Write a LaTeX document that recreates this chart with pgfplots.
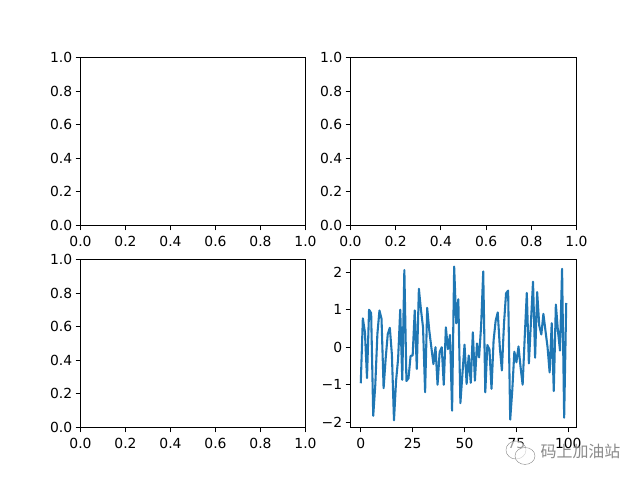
\documentclass[border=0pt]{standalone}
\usepackage{fontspec}
\setmainfont{DejaVu Sans}
\newfontfamily\cjk{Noto Sans CJK SC}
\usepackage{pgfplots}
\pgfplotsset{compat=1.18}
\definecolor{mplblue}{HTML}{1F77B4}
\definecolor{wmgray}{HTML}{8A8A8A}

\pgfplotsset{
  panel/.style={
    scale only axis, width=162pt, height=120.96pt, anchor=south west,
    axis line style={line width=0.8pt}, tick style={line width=0.8pt, black},
    major tick length=3.5pt, tick align=outside, xtick pos=bottom, ytick pos=left,
    tick label style={font=\fontsize{10}{12}\selectfont},
    xticklabel style={yshift=-0.5pt}, yticklabel style={xshift=1pt},
    /pgf/number format/assume math mode=true},
  blank panel/.style={
    panel, xmin=0, xmax=1, ymin=0, ymax=1,
    xtick={0,0.2,0.4,0.6,0.8,1}, ytick={0,0.2,0.4,0.6,0.8,1},
    xticklabels={0.0,0.2,0.4,0.6,0.8,1.0}, yticklabels={0.0,0.2,0.4,0.6,0.8,1.0}},
}

\begin{document}
\begin{tikzpicture}
\useasboundingbox (0pt,0pt) rectangle (460.8pt,345.6pt);

\begin{axis}[blank panel, at={(57.96pt,183.24pt)}]
\end{axis}
\begin{axis}[blank panel, width=162.72pt, at={(252.36pt,183.24pt)}]
\end{axis}
\begin{axis}[blank panel, at={(57.96pt,37.8pt)}]
\end{axis}

\begin{axis}[panel, width=162.72pt, at={(252.36pt,37.8pt)},
  xmin=-4.95, xmax=103.95, ymin=-2.14, ymax=2.34,
  xtick={0,25,50,75,100}, ytick={-2,-1,0,1,2},
  yticklabels={−2,−1,0,1,2}]
\addplot[sharp plot, no marks, color=mplblue, line width=1.5pt, line join=round] coordinates {
(0,-0.96)(1,0.77)(2,0.40)(3,-0.82)(4,1.00)(5,0.91)(6,-1.83)(7,-1.00)(8,0.35)(9,0.98)
(10,0.76)(11,-1.09)(12,-0.30)(13,0.35)(14,0.52)(15,-0.20)(16,-1.95)(17,-0.90)(18,-0.30)(19,1.00)
(20,-0.87)(21,2.06)(22,-0.90)(23,-0.83)(24,-0.23)(25,-0.22)(26,0.98)(27,-0.58)(28,1.56)(29,1.00)
(30,0.53)(31,-1.20)(32,1.05)(33,0.45)(34,0.00)(35,-0.45)(36,0.00)(37,-1.00)(38,-0.13)(39,0.00)
(40,-1.00)(41,0.53)(42,-0.05)(43,0.33)(44,-1.69)(45,2.15)(46,0.64)(47,1.28)(48,-1.49)(49,-0.70)
(50,0.07)(51,-0.98)(52,-0.22)(53,-0.95)(54,0.40)(55,-0.89)(56,0.10)(57,-0.27)(58,0.58)(59,2.02)
(60,-1.20)(61,0.06)(62,-0.06)(63,-1.11)(64,0.18)(65,0.71)(66,0.93)(67,0.00)(68,-0.62)(69,0.62)
(70,1.44)(71,1.51)(72,-1.93)(73,-1.15)(74,-0.12)(75,-0.40)(76,0.02)(77,-0.53)(78,-1.00)(79,0.27)
(80,1.45)(81,-0.43)(82,0.67)(83,1.75)(84,-0.28)(85,1.47)(86,0.58)(87,0.34)(88,0.89)(89,0.44)
(90,0.00)(91,-0.67)(92,0.64)(93,-1.17)(94,1.14)(95,0.44)(96,-0.09)(97,2.09)(98,-1.88)(99,1.18)};
\end{axis}

% watermark
\draw[wmgray, line width=0.3pt, fill=white, fill opacity=0.6] (371.5pt,21.6pt) ellipse (7.2pt and 6.5pt);
\draw[wmgray, line width=0.3pt, fill=white, fill opacity=0.6] (378pt,17.3pt) ellipse (7.2pt and 6.1pt);
\node[anchor=west, inner sep=0pt, text=wmgray, font=\cjk\fontsize{11.5}{13}\selectfont] at (389pt,20.9pt) {码上加油站};
\end{tikzpicture}
\end{document}
